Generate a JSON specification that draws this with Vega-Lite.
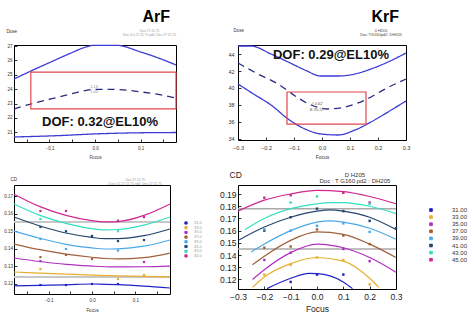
{
 "$schema": "https://vega.github.io/schema/vega-lite/v6.json",
 "background": "white",
 "padding": {"left": 3, "top": 8, "right": 0, "bottom": 0},
 "bounds": "flush",
 "columns": 2,
 "spacing": {"row": 43, "column": 62},
 "resolve": {"scale": {"color": "independent"}, "legend": {"color": "independent"}},
 "datasets": {
  "arf": [
   {"f":-0.178,"d":24.71,"c":"u"},{"f":-0.141,"d":25.26,"c":"u"},{"f":-0.097,"d":25.89,"c":"u"},{"f":-0.053,"d":26.51,"c":"u"},{"f":-0.02,"d":26.93,"c":"u"},{"f":-0.002,"d":27.05,"c":"u"},{"f":0.046,"d":27.05,"c":"u"},{"f":0.101,"d":26.58,"c":"u"},{"f":0.145,"d":26.10,"c":"u"},{"f":0.178,"d":25.68,"c":"u"},
   {"f":-0.178,"d":22.63,"c":"m"},{"f":-0.141,"d":22.97,"c":"m"},{"f":-0.097,"d":23.32,"c":"m"},{"f":-0.053,"d":23.67,"c":"m"},{"f":-0.002,"d":23.98,"c":"m"},{"f":0.046,"d":23.98,"c":"m"},{"f":0.101,"d":23.81,"c":"m"},{"f":0.145,"d":23.60,"c":"m"},{"f":0.178,"d":23.39,"c":"m"},
   {"f":-0.178,"d":20.68,"c":"l"},{"f":-0.075,"d":20.78,"c":"l"},{"f":-0.002,"d":20.89,"c":"l"},{"f":0.079,"d":20.96,"c":"l"},{"f":0.178,"d":20.99,"c":"l"}
  ],
  "krf": [
   {"f":-0.3,"d":44.94,"c":"u"},{"f":-0.254,"d":44.94,"c":"u"},{"f":-0.182,"d":44.0,"c":"u"},{"f":-0.121,"d":43.06,"c":"u"},{"f":-0.061,"d":42.12,"c":"u"},{"f":-0.004,"d":41.41,"c":"u"},{"f":0.057,"d":41.41,"c":"u"},{"f":0.118,"d":41.65,"c":"u"},{"f":0.175,"d":42.24,"c":"u"},{"f":0.236,"d":43.06,"c":"u"},{"f":0.3,"d":44.12,"c":"u"},
   {"f":-0.3,"d":42.94,"c":"m"},{"f":-0.229,"d":41.65,"c":"m"},{"f":-0.157,"d":40.47,"c":"m"},{"f":-0.096,"d":39.06,"c":"m"},{"f":-0.039,"d":38.0,"c":"m"},{"f":0.021,"d":37.53,"c":"m"},{"f":0.082,"d":37.76,"c":"m"},{"f":0.154,"d":38.59,"c":"m"},{"f":0.225,"d":39.88,"c":"m"},{"f":0.3,"d":41.06,"c":"m"},
   {"f":-0.3,"d":40.47,"c":"l"},{"f":-0.239,"d":39.18,"c":"l"},{"f":-0.182,"d":38.0,"c":"l"},{"f":-0.121,"d":36.35,"c":"l"},{"f":-0.061,"d":35.18,"c":"l"},{"f":-0.004,"d":34.59,"c":"l"},{"f":0.057,"d":34.47,"c":"l"},{"f":0.118,"d":35.06,"c":"l"},{"f":0.175,"d":36.0,"c":"l"},{"f":0.236,"d":37.18,"c":"l"},{"f":0.3,"d":38.47,"c":"l"}
  ],
  "cL": [
   {"f":-0.18,"cd":0.1711,"s":"45.00"},{"f":-0.12,"cd":0.1640,"s":"45.00"},{"f":-0.06,"cd":0.1590,"s":"45.00"},{"f":0,"cd":0.1560,"s":"45.00"},{"f":0.03,"cd":0.1553,"s":"45.00"},{"f":0.06,"cd":0.1555,"s":"45.00"},{"f":0.12,"cd":0.1590,"s":"45.00"},{"f":0.18,"cd":0.1655,"s":"45.00"},
   {"f":-0.18,"cd":0.1655,"s":"43.00"},{"f":-0.12,"cd":0.1590,"s":"43.00"},{"f":-0.06,"cd":0.1545,"s":"43.00"},{"f":0,"cd":0.1515,"s":"43.00"},{"f":0.03,"cd":0.1508,"s":"43.00"},{"f":0.06,"cd":0.1510,"s":"43.00"},{"f":0.12,"cd":0.1535,"s":"43.00"},{"f":0.18,"cd":0.1581,"s":"43.00"},
   {"f":-0.18,"cd":0.1581,"s":"41.00"},{"f":-0.12,"cd":0.1530,"s":"41.00"},{"f":-0.06,"cd":0.1490,"s":"41.00"},{"f":0,"cd":0.1465,"s":"41.00"},{"f":0.03,"cd":0.1458,"s":"41.00"},{"f":0.06,"cd":0.1458,"s":"41.00"},{"f":0.12,"cd":0.1475,"s":"41.00"},{"f":0.18,"cd":0.1513,"s":"41.00"},
   {"f":-0.18,"cd":0.1501,"s":"39.00"},{"f":-0.12,"cd":0.1460,"s":"39.00"},{"f":-0.06,"cd":0.1425,"s":"39.00"},{"f":0,"cd":0.1405,"s":"39.00"},{"f":0.03,"cd":0.1399,"s":"39.00"},{"f":0.06,"cd":0.1400,"s":"39.00"},{"f":0.12,"cd":0.1415,"s":"39.00"},{"f":0.18,"cd":0.1450,"s":"39.00"},
   {"f":-0.18,"cd":0.1427,"s":"37.00"},{"f":-0.12,"cd":0.1395,"s":"37.00"},{"f":-0.06,"cd":0.1370,"s":"37.00"},{"f":0,"cd":0.1352,"s":"37.00"},{"f":0.03,"cd":0.1345,"s":"37.00"},{"f":0.06,"cd":0.1343,"s":"37.00"},{"f":0.12,"cd":0.1350,"s":"37.00"},{"f":0.18,"cd":0.1376,"s":"37.00"},
   {"f":-0.18,"cd":0.1348,"s":"35.00"},{"f":-0.12,"cd":0.1328,"s":"35.00"},{"f":-0.06,"cd":0.1312,"s":"35.00"},{"f":0,"cd":0.1302,"s":"35.00"},{"f":0.03,"cd":0.1298,"s":"35.00"},{"f":0.06,"cd":0.1297,"s":"35.00"},{"f":0.12,"cd":0.1298,"s":"35.00"},{"f":0.18,"cd":0.1302,"s":"35.00"},
   {"f":-0.18,"cd":0.1268,"s":"33.00"},{"f":-0.12,"cd":0.1262,"s":"33.00"},{"f":-0.06,"cd":0.1256,"s":"33.00"},{"f":0,"cd":0.1250,"s":"33.00"},{"f":0.03,"cd":0.1248,"s":"33.00"},{"f":0.06,"cd":0.1246,"s":"33.00"},{"f":0.12,"cd":0.1243,"s":"33.00"},{"f":0.18,"cd":0.1240,"s":"33.00"},
   {"f":-0.18,"cd":0.1189,"s":"31.00"},{"f":-0.12,"cd":0.1192,"s":"31.00"},{"f":-0.06,"cd":0.1195,"s":"31.00"},{"f":0,"cd":0.1200,"s":"31.00"},{"f":0.03,"cd":0.1198,"s":"31.00"},{"f":0.06,"cd":0.1196,"s":"31.00"},{"f":0.12,"cd":0.1188,"s":"31.00"},{"f":0.18,"cd":0.1177,"s":"31.00"}
  ],
  "cP": [
   {"f":-0.119,"cd":0.1615,"s":"45.00"},{"f":-0.06,"cd":0.1615,"s":"45.00"},{"f":0.06,"cd":0.1560,"s":"45.00"},{"f":0.12,"cd":0.1580,"s":"45.00"},
   {"f":-0.119,"cd":0.1570,"s":"43.00"},{"f":0.06,"cd":0.1500,"s":"43.00"},
   {"f":-0.119,"cd":0.1524,"s":"41.00"},{"f":-0.06,"cd":0.1500,"s":"41.00"},{"f":0,"cd":0.1473,"s":"41.00"},{"f":0.06,"cd":0.1444,"s":"41.00"},{"f":0.12,"cd":0.1450,"s":"41.00"},
   {"f":-0.119,"cd":0.1456,"s":"39.00"},{"f":-0.06,"cd":0.1399,"s":"39.00"},{"f":0.06,"cd":0.1390,"s":"39.00"},
   {"f":-0.119,"cd":0.1353,"s":"37.00"},{"f":-0.06,"cd":0.1365,"s":"37.00"},{"f":0,"cd":0.1342,"s":"37.00"},
   {"f":-0.119,"cd":0.1330,"s":"35.00"},{"f":0.12,"cd":0.1325,"s":"35.00"},
   {"f":-0.119,"cd":0.1285,"s":"33.00"},{"f":0.06,"cd":0.1228,"s":"33.00"},{"f":0.12,"cd":0.1251,"s":"33.00"},
   {"f":-0.119,"cd":0.1194,"s":"31.00"},{"f":-0.06,"cd":0.1194,"s":"31.00"},{"f":0,"cd":0.1200,"s":"31.00"},{"f":0.06,"cd":0.1200,"s":"31.00"}
  ],
  "dL": [
   {"f":-0.3,"cd":0.176,"s":"45.00"},{"f":-0.2,"cd":0.185,"s":"45.00"},{"f":-0.1,"cd":0.190,"s":"45.00"},{"f":0,"cd":0.193,"s":"45.00"},{"f":0.1,"cd":0.192,"s":"45.00"},{"f":0.2,"cd":0.188,"s":"45.00"},{"f":0.3,"cd":0.182,"s":"45.00"},
   {"f":-0.273,"cd":0.161,"s":"43.00"},{"f":-0.2,"cd":0.170,"s":"43.00"},{"f":-0.1,"cd":0.178,"s":"43.00"},{"f":0,"cd":0.182,"s":"43.00"},{"f":0.05,"cd":0.183,"s":"43.00"},{"f":0.1,"cd":0.183,"s":"43.00"},{"f":0.2,"cd":0.180,"s":"43.00"},{"f":0.3,"cd":0.174,"s":"43.00"},
   {"f":-0.3,"cd":0.152,"s":"41.00"},{"f":-0.2,"cd":0.163,"s":"41.00"},{"f":-0.1,"cd":0.171,"s":"41.00"},{"f":0,"cd":0.176,"s":"41.00"},{"f":0.05,"cd":0.177,"s":"41.00"},{"f":0.1,"cd":0.176,"s":"41.00"},{"f":0.2,"cd":0.171,"s":"41.00"},{"f":0.3,"cd":0.161,"s":"41.00"},
   {"f":-0.25,"cd":0.1425,"s":"39.00"},{"f":-0.2,"cd":0.149,"s":"39.00"},{"f":-0.1,"cd":0.160,"s":"39.00"},{"f":0,"cd":0.167,"s":"39.00"},{"f":0.05,"cd":0.168,"s":"39.00"},{"f":0.1,"cd":0.167,"s":"39.00"},{"f":0.2,"cd":0.162,"s":"39.00"},{"f":0.3,"cd":0.153,"s":"39.00"},
   {"f":-0.245,"cd":0.132,"s":"37.00"},{"f":-0.2,"cd":0.139,"s":"37.00"},{"f":-0.1,"cd":0.152,"s":"37.00"},{"f":0,"cd":0.159,"s":"37.00"},{"f":0.1,"cd":0.157,"s":"37.00"},{"f":0.2,"cd":0.149,"s":"37.00"},{"f":0.3,"cd":0.138,"s":"37.00"},
   {"f":-0.245,"cd":0.120,"s":"35.00"},{"f":-0.2,"cd":0.128,"s":"35.00"},{"f":-0.1,"cd":0.142,"s":"35.00"},{"f":0,"cd":0.149,"s":"35.00"},{"f":0.1,"cd":0.146,"s":"35.00"},{"f":0.2,"cd":0.138,"s":"35.00"},{"f":0.3,"cd":0.126,"s":"35.00"},
   {"f":-0.245,"cd":0.1135,"s":"33.00"},{"f":-0.2,"cd":0.122,"s":"33.00"},{"f":-0.1,"cd":0.133,"s":"33.00"},{"f":0,"cd":0.138,"s":"33.00"},{"f":0.1,"cd":0.135,"s":"33.00"},{"f":0.2,"cd":0.121,"s":"33.00"},{"f":0.235,"cd":0.1135,"s":"33.00"},
   {"f":-0.19,"cd":0.1125,"s":"31.00"},{"f":-0.1,"cd":0.121,"s":"31.00"},{"f":-0.03,"cd":0.125,"s":"31.00"},{"f":0,"cd":0.1248,"s":"31.00"},{"f":0.1,"cd":0.118,"s":"31.00"},{"f":0.135,"cd":0.1125,"s":"31.00"}
  ],
  "dP": [
   {"f":-0.2,"cd":0.187,"s":"45.00"},{"f":-0.1,"cd":0.189,"s":"45.00"},{"f":0.1,"cd":0.191,"s":"45.00"},{"f":0.2,"cd":0.183,"s":"45.00"},
   {"f":-0.1,"cd":0.183,"s":"43.00"},{"f":0,"cd":0.188,"s":"43.00"},{"f":0.2,"cd":0.182,"s":"43.00"},
   {"f":-0.2,"cd":0.160,"s":"41.00"},{"f":-0.1,"cd":0.171,"s":"41.00"},{"f":0,"cd":0.178,"s":"41.00"},{"f":0.1,"cd":0.176,"s":"41.00"},{"f":0.2,"cd":0.168,"s":"41.00"},{"f":0.3,"cd":0.162,"s":"41.00"},
   {"f":-0.2,"cd":0.161,"s":"39.00"},{"f":-0.1,"cd":0.160,"s":"39.00"},{"f":0,"cd":0.164,"s":"39.00"},{"f":0.1,"cd":0.166,"s":"39.00"},{"f":0.2,"cd":0.159,"s":"39.00"},
   {"f":-0.2,"cd":0.146,"s":"37.00"},{"f":-0.1,"cd":0.147,"s":"37.00"},{"f":0,"cd":0.161,"s":"37.00"},{"f":0.1,"cd":0.156,"s":"37.00"},{"f":0.2,"cd":0.149,"s":"37.00"},
   {"f":-0.2,"cd":0.136,"s":"35.00"},{"f":-0.1,"cd":0.142,"s":"35.00"},{"f":0.1,"cd":0.145,"s":"35.00"},{"f":0.2,"cd":0.135,"s":"35.00"},
   {"f":-0.2,"cd":0.124,"s":"33.00"},{"f":-0.1,"cd":0.132,"s":"33.00"},{"f":0,"cd":0.138,"s":"33.00"},{"f":0.1,"cd":0.136,"s":"33.00"},{"f":0.2,"cd":0.116,"s":"33.00"},
   {"f":-0.1,"cd":0.118,"s":"31.00"},{"f":0,"cd":0.124,"s":"31.00"},{"f":0.1,"cd":0.124,"s":"31.00"}
  ]
 },
 "concat": [
  {
   "width": 162, "height": 97,
   "title": {"text": "ArF", "frame": "group", "anchor": "end", "dx": -6, "offset": 3, "fontSize": 16, "fontWeight": "bold", "color": "#000"},
   "layer": [
    {"data": {"name": "arf"}, "mark": {"type": "line", "interpolate": "monotone", "strokeWidth": 1.3},
     "encoding": {
      "x": {"field": "f", "type": "quantitative", "scale": {"domain": [-0.178, 0.178], "nice": false, "zero": false},
            "axis": {"title": "Focus", "values": [-0.15,-0.1,-0.05,0,0.05,0.1,0.15], "tickCount": 50, "labelExpr": "abs(round(datum.value*100)) % 10 == 0 ? format(datum.value, '.1f') : ''", "labelFontSize": 4.5, "tickSize": -3, "labelPadding": 6.5, "titleFontSize": 4.5, "titlePadding": 4}},
      "y": {"field": "d", "type": "quantitative", "scale": {"domain": [20.33, 27.07], "nice": false, "zero": false},
            "axis": {"title": "Dose", "values": [21,22,23,24,25,26,27], "tickCount": 50, "format": "d", "labelFontSize": 4.5, "tickSize": -3, "labelPadding": 5, "titleFontSize": 4.5, "titleAngle": 0, "titleAlign": "left", "titleBaseline": "bottom", "titleX": -8, "titleY": -12}},
      "stroke": {"field": "c", "type": "nominal", "scale": {"domain": ["u","m","l"], "range": ["#3b3bd6","#2a2a80","#3b3bd6"]}, "legend": null},
      "strokeDash": {"field": "c", "type": "nominal", "scale": {"domain": ["u","m","l"], "range": [[1,0],[7,5],[1,0]]}, "legend": null}
     }},
    {"data": {"values": [{"f": -0.141, "f2": 0.178, "d": 22.63, "d2": 25.19}]}, "mark": {"type": "rect", "fillOpacity": 0, "stroke": "#e0474c", "strokeWidth": 1.2},
     "encoding": {"x": {"field": "f", "type": "quantitative"}, "x2": {"field": "f2"}, "y": {"field": "d", "type": "quantitative"}, "y2": {"field": "d2"}}},
    {"data": {"values": [{"f": 0.011, "d": 21.72, "t": "DOF: 0.32@EL10%"}]}, "mark": {"type": "text", "fontSize": 13, "fontWeight": "bold", "color": "#111"},
     "encoding": {"x": {"field": "f", "type": "quantitative"}, "y": {"field": "d", "type": "quantitative"}, "text": {"field": "t"}}},
    {"data": {"values": [{"f": -0.002, "d": 24.15, "t": "1.13"}, {"f": -0.002, "d": 23.81, "t": "1.03"}]}, "mark": {"type": "text", "fontSize": 4, "color": "#8888aa"},
     "encoding": {"x": {"field": "f", "type": "quantitative"}, "y": {"field": "d", "type": "quantitative"}, "text": {"field": "t"}}},
    {"data": {"values": [{"f": 0.12, "d": 28.04, "t": "Dev 27.15 75"}, {"f": 0.12, "d": 27.76, "t": "Dev 0.0 27.15 75 pd2: Dev 27.15 75"}]}, "mark": {"type": "text", "fontSize": 3.3, "color": "#999"},
     "encoding": {"x": {"field": "f", "type": "quantitative"}, "y": {"field": "d", "type": "quantitative"}, "text": {"field": "t"}}}
   ]
  },
  {
   "width": 168, "height": 95,
   "title": {"text": "KrF", "frame": "group", "anchor": "end", "dx": -7, "offset": 2, "fontSize": 16, "fontWeight": "bold", "color": "#000"},
   "layer": [
    {"data": {"name": "krf"}, "mark": {"type": "line", "interpolate": "monotone", "strokeWidth": 1.3},
     "encoding": {
      "x": {"field": "f", "type": "quantitative", "scale": {"domain": [-0.3, 0.3], "nice": false, "zero": false},
            "axis": {"title": "Focus", "values": [-0.3,-0.2,-0.1,0,0.1,0.2,0.3], "tickCount": 50, "format": ".1f", "labelFontSize": 5.5, "tickSize": -3, "labelPadding": 8, "titleFontSize": 5, "titlePadding": 3.5}},
      "y": {"field": "d", "type": "quantitative", "scale": {"domain": [33.88, 45.06], "nice": false, "zero": false},
            "axis": {"title": "Dose", "values": [34,36,38,40,42,44], "tickCount": 50, "format": "d", "labelFontSize": 5.5, "tickSize": -3, "labelPadding": 7, "titleFontSize": 4.5, "titleAngle": 0, "titleAlign": "left", "titleBaseline": "bottom", "titleX": -5, "titleY": -13}},
      "stroke": {"field": "c", "type": "nominal", "scale": {"domain": ["u","m","l"], "range": ["#3b3bd6","#2a2a80","#3b3bd6"]}, "legend": null},
      "strokeDash": {"field": "c", "type": "nominal", "scale": {"domain": ["u","m","l"], "range": [[1,0],[7,5],[1,0]]}, "legend": null}
     }},
    {"data": {"values": [{"f": -0.125, "f2": 0.157, "d": 35.76, "d2": 39.53}]}, "mark": {"type": "rect", "fillOpacity": 0, "stroke": "#e0474c", "strokeWidth": 1.2},
     "encoding": {"x": {"field": "f", "type": "quantitative"}, "x2": {"field": "f2"}, "y": {"field": "d", "type": "quantitative"}, "y2": {"field": "d2"}}},
    {"data": {"values": [{"f": 0.032, "d": 43.88, "t": "DOF: 0.29@EL10%"}]}, "mark": {"type": "text", "fontSize": 13, "fontWeight": "bold", "color": "#111"},
     "encoding": {"x": {"field": "f", "type": "quantitative"}, "y": {"field": "d", "type": "quantitative"}, "text": {"field": "t"}}},
    {"data": {"values": [{"f": -0.018, "d": 38.1, "t": "# 0.62"}, {"f": -0.018, "d": 37.4, "t": "E 35.57"}]}, "mark": {"type": "text", "fontSize": 4, "color": "#555"},
     "encoding": {"x": {"field": "f", "type": "quantitative"}, "y": {"field": "d", "type": "quantitative"}, "text": {"field": "t"}}},
    {"data": {"values": [{"f": 0.211, "d": 46.71, "t": "0 H205"}, {"f": 0.211, "d": 46.24, "t": "Doc:TG160pd2: DH205"}]}, "mark": {"type": "text", "fontSize": 4, "color": "#444"},
     "encoding": {"x": {"field": "f", "type": "quantitative"}, "y": {"field": "d", "type": "quantitative"}, "text": {"field": "t"}}}
   ]
  },
  {
   "width": 156, "height": 109,
   "layer": [
    {"data": {"values": [{"cd": 0.1552}, {"cd": 0.124}]}, "mark": {"type": "rule", "color": "#c8c8c8", "strokeWidth": 2},
     "encoding": {"y": {"field": "cd", "type": "quantitative"}}},
    {"data": {"name": "cL"}, "mark": {"type": "line", "interpolate": "monotone", "strokeWidth": 1.2},
     "encoding": {
      "x": {"field": "f", "type": "quantitative", "scale": {"domain": [-0.18, 0.18], "nice": false, "zero": false},
            "axis": {"title": "Focus", "values": [-0.15,-0.1,-0.05,0,0.05,0.1,0.15], "tickCount": 50, "labelExpr": "abs(round(datum.value*100)) % 10 == 0 ? format(datum.value, '.1f') : ''", "labelFontSize": 4.5, "tickSize": -3, "labelPadding": 6.5, "titleFontSize": 4.5, "titlePadding": 5}},
      "y": {"field": "cd", "type": "quantitative", "scale": {"domain": [0.1143, 0.1763], "nice": false, "zero": false},
            "axis": {"title": "CD", "values": [0.12,0.13,0.14,0.15,0.16,0.17], "tickCount": 50, "format": ".2f", "labelFontSize": 4.5, "tickSize": -3, "labelPadding": 4.5, "titleFontSize": 4.5, "titleAngle": 0, "titleAlign": "left", "titleBaseline": "bottom", "titleX": -4, "titleY": -4}},
      "color": {"field": "s", "type": "nominal", "scale": {"domain": ["31.00","33.00","35.00","37.00","39.00","41.00","43.00","45.00"], "range": ["#2222c8","#e8b030","#b030c0","#a0603a","#4aa8e8","#24466e","#33dfc0","#d02890"]},
                "legend": {"orient": "none", "legendX": 170, "legendY": 36, "title": null, "symbolType": "square", "symbolSize": 5, "symbolStrokeWidth": 1, "labelFontSize": 4, "labelColor": "#999", "labelOffset": 6, "rowPadding": 0.7, "clipHeight": 4, "padding": 0, "labelExpr": "slice(datum.label, 0, 4)"}}
     }},
    {"data": {"name": "cP"}, "mark": {"type": "square", "size": 5, "filled": true, "opacity": 1},
     "encoding": {"x": {"field": "f", "type": "quantitative"}, "y": {"field": "cd", "type": "quantitative"},
      "color": {"field": "s", "type": "nominal"}}},
    {"data": {"values": [{"f": 0.1, "cd": 0.1791, "t": "Dev 27.15 75"}, {"f": 0.1, "cd": 0.1769, "t": "Dev 0.0 27.15 75 pd2: Dev 27.15 75"}]}, "mark": {"type": "text", "fontSize": 3.3, "color": "#999"},
     "encoding": {"x": {"field": "f", "type": "quantitative"}, "y": {"field": "cd", "type": "quantitative"}, "text": {"field": "t"}}}
   ]
  },
  {
   "width": 158, "height": 104,
   "layer": [
    {"data": {"values": [{"cd": 0.178}, {"cd": 0.145}]}, "mark": {"type": "rule", "color": "#aaaaaa", "strokeWidth": 1.5},
     "encoding": {"y": {"field": "cd", "type": "quantitative"}}},
    {"data": {"name": "dL"}, "mark": {"type": "line", "interpolate": "monotone", "strokeWidth": 1.2},
     "encoding": {
      "x": {"field": "f", "type": "quantitative", "scale": {"domain": [-0.3, 0.3], "nice": false, "zero": false},
            "axis": {"title": "Focus", "values": [-0.3,-0.2,-0.1,0,0.1,0.2,0.3], "tickCount": 50, "format": ".1f", "labelFontSize": 8.5, "tickSize": -3, "labelPadding": 6, "titleFontSize": 8.5, "titlePadding": 3.5, "labelColor": "#222", "titleColor": "#222"}},
      "y": {"field": "cd", "type": "quantitative", "scale": {"domain": [0.1122, 0.1974], "nice": false, "zero": false},
            "axis": {"title": "CD", "values": [0.12,0.13,0.14,0.15,0.16,0.17,0.18,0.19], "tickCount": 50, "format": ".2f", "labelFontSize": 8.5, "tickSize": -3, "labelPadding": 5, "labelColor": "#222", "titleColor": "#222", "titleFontSize": 8.5, "titleAngle": 0, "titleAlign": "left", "titleBaseline": "bottom", "titleX": -9, "titleY": -6}},
      "color": {"field": "s", "type": "nominal", "scale": {"domain": ["31.00","33.00","35.00","37.00","39.00","41.00","43.00","45.00"], "range": ["#2222c8","#e8b030","#b030c0","#a0603a","#4aa8e8","#24466e","#33dfc0","#d02890"]},
                "legend": {"orient": "none", "legendX": 190, "legendY": 22, "title": null, "symbolType": "square", "symbolSize": 7, "symbolStrokeWidth": 1, "labelFontSize": 6, "labelColor": "#333", "labelOffset": 18, "rowPadding": -0.9, "padding": 0}}
     }},
    {"data": {"name": "dP"}, "mark": {"type": "square", "size": 6, "filled": true, "opacity": 1},
     "encoding": {"x": {"field": "f", "type": "quantitative"}, "y": {"field": "cd", "type": "quantitative"},
      "color": {"field": "s", "type": "nominal"}}},
    {"data": {"values": [{"f": 0.144, "cd": 0.2056, "t": "D H205"}, {"f": 0.144, "cd": 0.2007, "t": "Doc : T G160.pd2 : DH205"}]}, "mark": {"type": "text", "fontSize": 6, "color": "#333"},
     "encoding": {"x": {"field": "f", "type": "quantitative"}, "y": {"field": "cd", "type": "quantitative"}, "text": {"field": "t"}}}
   ]
  }
 ],
 "config": {
  "font": "Liberation Sans",
  "view": {"stroke": "#000", "strokeWidth": 1},
  "axis": {"domain": false, "grid": false, "tickColor": "#000", "tickWidth": 0.8, "labelColor": "#333", "titleColor": "#333", "titleFontWeight": "normal", "labelFlush": false, "labelOverlap": false},
  "title": {"font": "Liberation Sans"},
  "legend": {"padding": 0}
 }
}
